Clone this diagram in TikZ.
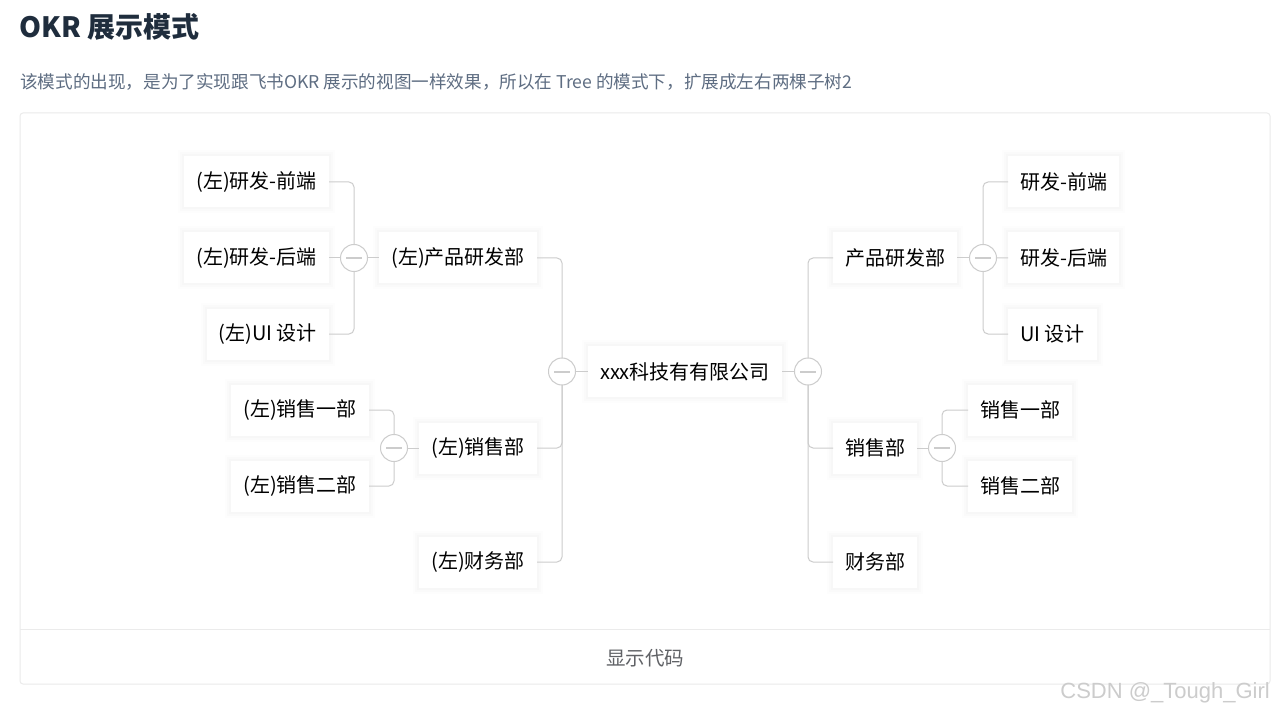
\documentclass[tikz,border=0pt]{standalone}
\usepackage{fontspec}
\newfontfamily\cjk{Noto Sans CJK SC}
\newfontfamily\wmfont{Liberation Sans}
\definecolor{titlec}{HTML}{1F2D3D}
\definecolor{subc}{HTML}{5E6D82}
\definecolor{linec}{HTML}{CCCCCC}
\definecolor{framec}{HTML}{EBEBEB}
\definecolor{btnc}{HTML}{606266}
\begin{document}
\begin{tikzpicture}[x=1pt,y=-1pt,
  box/.style={font=\cjk\fontsize{20}{24}\selectfont, fill=white, inner xsep=12pt, inner ysep=0pt,
    minimum height=51pt, text=black,
    preaction={draw=black, draw opacity=0.008, line width=12pt, rounded corners=6pt},
    preaction={draw=black, draw opacity=0.01, line width=8pt, rounded corners=4pt},
    preaction={draw=black, draw opacity=0.012, line width=4pt, rounded corners=2pt}},
  lbox/.style={box, anchor=east},
  rbox/.style={box, anchor=west},
  conn/.style={draw=linec, line width=1pt, rounded corners=5pt},
  toggle/.style={circle, draw=linec, fill=white, minimum size=27pt, inner sep=0pt, line width=1pt,
    path picture={\draw[linec, line width=2pt] ([xshift=-8pt]path picture bounding box.center) -- ([xshift=8pt]path picture bounding box.center);}}
]
\useasboundingbox (0,0) rectangle (1275,714);
\fill[white] (0,0) rectangle (1275,714);

% header
\node[anchor=west, font=\cjk\bfseries\fontsize{28}{32}\selectfont, text=titlec, inner sep=0pt] (title) at (19,27) {OKR 展示模式};
\node[anchor=west, font=\cjk\fontsize{17.6}{20}\selectfont, text=subc, inner sep=0pt] (sub) at (20,82) {该模式的出现，是为了实现跟飞书OKR 展示的视图一样效果，所以在 Tree 的模式下，扩展成左右两棵子树2};

% frame
\draw[framec, line width=1pt, rounded corners=3pt] (20,113) rectangle (1270,684);
\draw[framec, line width=1pt] (20,629) -- (1270,629);
\node[font=\cjk\fontsize{19.5}{22}\selectfont, text=btnc, inner sep=0pt] (show) at (645,658) {显示代码};

% center
\node[box] (root) at (685,371.5) {xxx科技有有限公司};

% left tree
\node[lbox] (lp) at (537,258) {(左)产品研发部};
\node[lbox] (l1) at (329,182) {(左)研发-前端};
\node[lbox] (l2) at (329,258) {(左)研发-后端};
\node[lbox] (l3) at (329,334) {(左)UI 设计};
\node[lbox] (ls) at (537,448) {(左)销售部};
\node[lbox] (ls1) at (369,410) {(左)销售一部};
\node[lbox] (ls2) at (369,486) {(左)销售二部};
\node[lbox] (lf) at (537,562) {(左)财务部};

% right tree
\node[rbox] (rp) at (833,258) {产品研发部};
\node[rbox] (r1) at (1008,182) {研发-前端};
\node[rbox] (r2) at (1008,258) {研发-后端};
\node[rbox] (r3) at (1008,334) {UI 设计};
\node[rbox] (rs) at (833,448) {销售部};
\node[rbox] (rs1) at (968,410) {销售一部};
\node[rbox] (rs2) at (968,486) {销售二部};
\node[rbox] (rf) at (833,562) {财务部};

% toggle positions
\coordinate (c1) at (354,258);
\coordinate (c2) at (394,448);
\coordinate (c3) at (562,371.5);
\coordinate (c4) at (808,371.5);
\coordinate (c5) at (983,258);
\coordinate (c6) at (942,448);

% connectors
\draw[conn] (l1.east) -| (c1);
\draw[conn] (l2.east) -- (c1);
\draw[conn] (l3.east) -| (c1);
\draw[conn] (c1) -- (lp.west);

\draw[conn] (ls1.east) -| (c2);
\draw[conn] (ls2.east) -| (c2);
\draw[conn] (c2) -- (ls.west);

\draw[conn] (lp.east) -| (c3);
\draw[conn] (ls.east) -| (c3);
\draw[conn] (lf.east) -| (c3);
\draw[conn] (c3) -- (root.west);

\draw[conn] (root.east) -- (c4);
\draw[conn] (c4) |- (rp.west);
\draw[conn] (c4) |- (rs.west);
\draw[conn] (c4) |- (rf.west);

\draw[conn] (rp.east) -- (c5);
\draw[conn] (c5) |- (r1.west);
\draw[conn] (c5) |- (r2.west);
\draw[conn] (c5) |- (r3.west);

\draw[conn] (rs.east) -- (c6);
\draw[conn] (c6) |- (rs1.west);
\draw[conn] (c6) |- (rs2.west);

% toggles
\foreach \c in {c1,c2,c3,c4,c5,c6} \node[toggle] (t\c) at (\c) {};

% watermark
\node[anchor=east, font=\wmfont\fontsize{22}{24}\selectfont, text=black!20, inner sep=0pt] (wm) at (1270,693) {CSDN @\_Tough\_Girl};
\end{tikzpicture}
\end{document}
